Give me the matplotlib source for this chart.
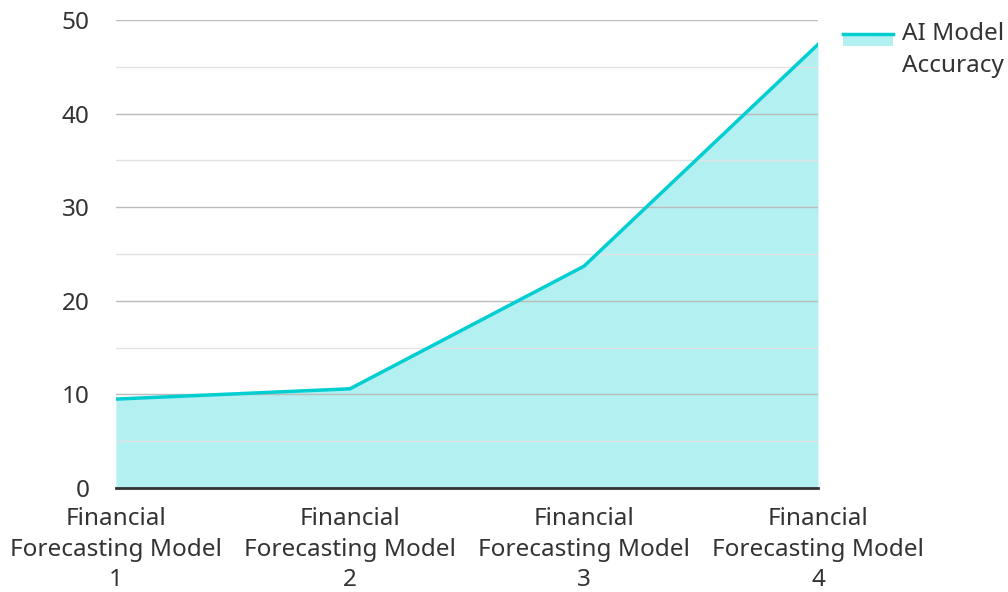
import matplotlib.pyplot as plt
from matplotlib.legend_handler import HandlerBase
from matplotlib.patches import Rectangle
from matplotlib.lines import Line2D

plt.rcParams['font.family'] = ['Noto Sans', 'DejaVu Sans']

models = ["Financial\nForecasting Model\n1", "Financial\nForecasting Model\n2",
          "Financial\nForecasting Model\n3", "Financial\nForecasting Model\n4"]
accuracy = [9.5, 10.6, 23.7, 47.4]
series_name = "AI Model\nAccuracy"

line_color = "#00CED1"
text_color = "#333333"
fs = 17.5


class AreaHandler(HandlerBase):
    # patch with the line on its top edge, lifted to the first text line
    def create_artists(self, legend, orig_handle, xdescent, ydescent, width, height, fontsize, trans):
        rect = Rectangle((-xdescent, -ydescent + 0.8 * height), width, 0.75 * height,
                         facecolor=line_color, alpha=0.3, edgecolor="none", transform=trans)
        ln = Line2D([-xdescent, -xdescent + width], [-ydescent + 1.5 * height] * 2,
                    color=line_color, lw=2.5, transform=trans)
        return [rect, ln]


fig = plt.figure(figsize=(10.08, 5.92), dpi=100)
ax = fig.add_axes([0.115, 0.1757, 0.6965, 0.7903])

x = list(range(len(models)))
ax.fill_between(x, accuracy, color=line_color, alpha=0.3, lw=0, zorder=1)
ax.plot(x, accuracy, color=line_color, lw=2.5, zorder=3)

ax.set_xlim(0, 3)
ax.set_ylim(0, 50)
ax.set_yticks(range(0, 51, 10))
ax.set_yticks(range(5, 50, 10), minor=True)
ax.grid(axis="y", which="major", color="#bbbbbb", lw=1, zorder=2)
ax.grid(axis="y", which="minor", color="#e2e2e2", lw=1, zorder=2)
ax.set_axisbelow(False)
ax.set_xticks(x)
ax.set_xticklabels(models, linespacing=1.35)
ax.tick_params(axis="both", which="both", length=0, labelsize=fs, colors=text_color)
ax.tick_params(axis="x", pad=14)
ax.tick_params(axis="y", pad=19)
for s in ["top", "right", "left"]:
    ax.spines[s].set_visible(False)
ax.spines["bottom"].set_color(text_color)
ax.spines["bottom"].set_linewidth(2)
ax.spines["bottom"].set_zorder(4)

leg = ax.legend([object()], [series_name], handler_map={object: AreaHandler()},
                loc="upper left", bbox_to_anchor=(1.0356, 0.995), frameon=False,
                fontsize=fs, handlelength=2.06, handletextpad=0.37, labelcolor=text_color,
                borderpad=0, borderaxespad=0)
leg.get_texts()[0].set_linespacing(1.43)

fig.savefig("out.png", dpi=100)
